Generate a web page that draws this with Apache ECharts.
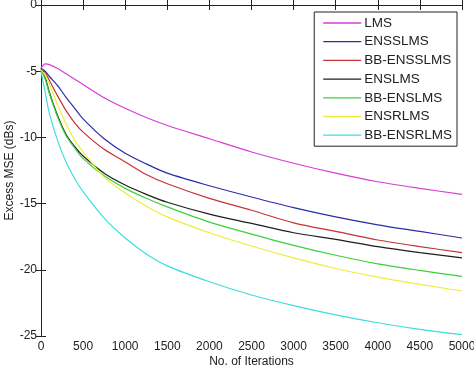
<!DOCTYPE html>
<html><head><meta charset="utf-8">
<script src="https://cdn.jsdelivr.net/npm/echarts@6/dist/echarts.min.js"></script>
<style>html,body{margin:0;padding:0;background:#fff}#c{width:474px;height:368px}</style>
</head><body><div id="c"></div>
<script>
var iterations = [0, 50, 100, 200, 300, 400, 500, 750, 1000, 1250, 1500, 2000, 2500, 3000, 3500, 4000, 4500, 5000];
var seriesNames = ['LMS', 'ENSSLMS', 'BB-ENSSLMS', 'ENSLMS', 'BB-ENSLMS', 'ENSRLMS', 'BB-ENSRLMS'];
var lms        = [-4.8, -4.45, -4.5, -4.8, -5.2, -5.6, -6.0, -7.0, -7.8, -8.5, -9.1, -10.1, -11.1, -11.95, -12.7, -13.35, -13.85, -14.3];
var ensslms    = [-4.8, -5.0, -5.4, -6.1, -7.0, -7.8, -8.6, -10.1, -11.2, -12.0, -12.7, -13.65, -14.5, -15.3, -16.0, -16.6, -17.1, -17.6];
var bbEnsslms  = [-4.8, -5.1, -5.7, -6.9, -8.0, -8.9, -9.6, -10.9, -11.85, -12.8, -13.5, -14.6, -15.5, -16.45, -17.1, -17.75, -18.25, -18.7];
var enslms     = [-4.8, -5.5, -6.6, -8.4, -9.8, -10.7, -11.4, -12.7, -13.6, -14.3, -14.9, -15.8, -16.5, -17.2, -17.7, -18.25, -18.7, -19.1];
var bbEnslms   = [-4.9, -5.6, -6.7, -8.5, -9.9, -10.8, -11.6, -12.9, -13.85, -14.6, -15.25, -16.4, -17.3, -18.15, -18.9, -19.55, -20.05, -20.5];
var ensrlms    = [-4.9, -5.3, -6.0, -7.6, -9.0, -10.2, -11.1, -13.0, -14.2, -15.2, -16.0, -17.2, -18.2, -19.1, -19.9, -20.55, -21.1, -21.6];
var bbEnsrlms  = [-5.0, -6.6, -8.2, -10.3, -11.9, -13.1, -14.1, -16.1, -17.6, -18.8, -19.7, -20.9, -21.9, -22.7, -23.4, -24.0, -24.5, -24.9];
var xTicks = [0, 500, 1000, 1500, 2000, 2500, 3000, 3500, 4000, 4500, 5000];
var yTicks = [-25, -20, -15, -10, -5, 0];

var allValues = [lms, ensslms, bbEnsslms, enslms, bbEnslms, ensrlms, bbEnsrlms];
var colors = ['#d53fd5', '#2c2ca8', '#c83232', '#1e1e1e', '#3ccf3c', '#eded3c', '#3cdede'];

function pairs(v) { return iterations.map(function (x, i) { return [x, v[i]]; }); }

var font = 'Liberation Sans, Arial, sans-serif';
var chart = echarts.init(document.getElementById('c'), null, { renderer: 'canvas' });
var axisLine = { show: true, lineStyle: { color: '#222', width: 1 } };
var tickIn = { show: true, inside: true, length: 5, lineStyle: { color: '#222' } };
chart.setOption({
  animation: false,
  backgroundColor: '#fff',
  color: colors,
  grid: { left: 41, right: 12, top: 5, bottom: 32, containLabel: false, outerBoundsMode: 'none' },
  legend: {
    orient: 'vertical', right: 17, top: 12,
    backgroundColor: '#fff', borderColor: '#222', borderWidth: 1,
    padding: [4, 5, 4, 9],
    icon: 'rect',
    itemWidth: 38, itemHeight: 1.3, itemGap: 4.7,
    textStyle: { fontFamily: font, fontSize: 13.5, color: '#222', lineHeight: 14, padding: [0, 0, 0, -2] },
    data: seriesNames
  },
  xAxis: [{
    type: 'value', min: 0, max: 5000, interval: 500,
    name: 'No. of Iterations', nameLocation: 'middle', nameGap: 20, nameMoveOverlap: false,
    nameTextStyle: { fontFamily: font, fontSize: 12, color: '#222' },
    axisLine: axisLine, axisTick: tickIn, splitLine: { show: false },
    axisLabel: { fontFamily: font, fontSize: 12, color: '#222', margin: 5,
      formatter: function (v) { return xTicks.indexOf(v) >= 0 ? String(v) : ''; } }
  }, {
    type: 'value', min: 0, max: 5000, interval: 500, position: 'top',
    axisLine: axisLine, axisTick: tickIn, axisLabel: { show: false }, splitLine: { show: false }
  }],
  yAxis: [{
    type: 'value', min: -25, max: 0, interval: 5,
    name: 'Excess MSE (dBs)', nameLocation: 'middle', nameGap: 25, nameMoveOverlap: false,
    nameTextStyle: { fontFamily: font, fontSize: 12, color: '#222' },
    axisLine: axisLine, axisTick: tickIn, splitLine: { show: false },
    axisLabel: { fontFamily: font, fontSize: 12, color: '#222', margin: 4,
      formatter: function (v) { return yTicks.indexOf(v) >= 0 ? String(v) : ''; } }
  }, {
    type: 'value', min: -25, max: 0, interval: 5, position: 'right',
    axisLine: axisLine, axisTick: tickIn, axisLabel: { show: false }, splitLine: { show: false }
  }],
  series: seriesNames.map(function (n, i) {
    return { name: n, type: 'line', smooth: 0.3, symbol: 'none', data: pairs(allValues[i]),
      lineStyle: { width: 1.2, color: colors[i] }, itemStyle: { color: colors[i] } };
  })
});
</script></body></html>
